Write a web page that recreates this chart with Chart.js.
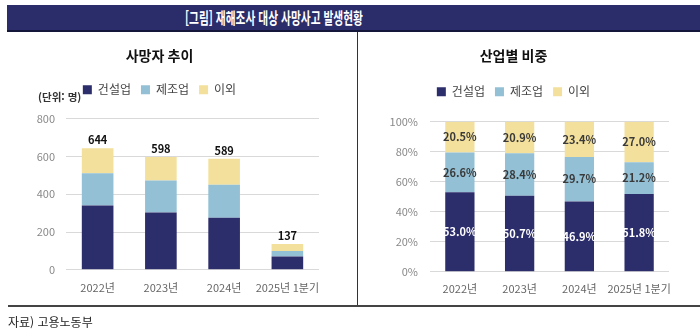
<!DOCTYPE html>
<html lang="ko">
<head>
<meta charset="utf-8">
<script src="https://cdn.jsdelivr.net/npm/chart.js@4/dist/chart.umd.min.js"></script>
<style>
  html, body { margin: 0; padding: 0; background: #fff; }
  body { width: 700px; height: 333px; position: relative; overflow: hidden;
         font-family: "Noto Sans CJK KR", "Noto Sans", sans-serif; }
  .head { position: absolute; left: 7px; top: 5px; width: 693px; height: 25px;
          background: #2a2d6a; border-bottom: 2px solid #15173a; }
  .head span { position: absolute; left: 267px; top: 1px; color: #fff; font-weight: bold;
               font-size: 16px; white-space: nowrap; transform: translateX(-50%) scaleX(0.67);
               line-height: 22px; }
  .vline { position: absolute; left: 357px; top: 32px; width: 1px; height: 274px; background: #333; }
  .bline { position: absolute; left: 8px; top: 305px; width: 692px; height: 2px; background: #444; }
  .unit { position: absolute; left: 38px; top: 89px; font-size: 10.5px; font-weight: bold; color: #333; }
  .src { position: absolute; left: 8px; top: 313px; font-size: 12px; color: #222; }
  #left { position: absolute; left: 0; top: 35px; }
  #right { position: absolute; left: 358px; top: 35px; }
</style>
</head>
<body>
<div class="head"><span>[그림] 재해조사 대상 사망사고 발생현황</span></div>
<div class="vline"></div>
<div class="bline"></div>
<canvas id="left" width="358" height="280"></canvas>
<canvas id="right" width="342" height="280"></canvas>
<div class="unit">(단위: 명)</div>
<div class="src">자료) 고용노동부</div>

<script>
//----------------------
// Data
//----------------------

const years = ['2022년', '2023년', '2024년', '2025년 1분기'];
const seriesNames = ['건설업', '제조업', '이외'];

// 사망자 수 (명)
const construction = [341, 303, 276, 71];
const manufacturing = [171, 170, 175, 29];
const others = [132, 125, 138, 37];

// 산업별 비중 (%)
const constructionPct = [53.0, 50.7, 46.9, 51.8];
const manufacturingPct = [26.6, 28.4, 29.7, 21.2];
const othersPct = [20.5, 20.9, 23.4, 27.0];

const countTicks = [0, 200, 400, 600, 800];
const pctTicks = [0, 20, 40, 60, 80, 100];

const colors = ['#2c2d6b', '#93c0d5', '#f3e09c'];
const font = '"Noto Sans CJK KR", "Noto Sans", sans-serif';

//----------------------
// Plugins
//----------------------

const legendGap = { // push the plot area down below the legend
    id: 'legendGap',
    beforeInit(chart, args, opts) {
        const fit = chart.legend.fit;
        chart.legend.fit = function () {
            fit.bind(chart.legend)();
            this.height += opts.extra;
        };
    }
};

const barLabels = { // totals on top or values inside each segment
    id: 'barLabels',
    afterDatasetsDraw(chart, args, opts) {
        const ctx = chart.ctx;
        ctx.save();
        ctx.font = 'bold 11px ' + font;
        ctx.textAlign = 'center';
        ctx.textBaseline = 'middle';
        if (opts.mode === 'total') {
            const last = chart.getDatasetMeta(chart.data.datasets.length - 1);
            last.data.forEach((bar, i) => {
                const total = chart.data.datasets.reduce((s, d) => s + d.data[i], 0);
                ctx.fillStyle = '#111';
                ctx.fillText(total, bar.x, bar.y - 8);
            });
        } else {
            chart.data.datasets.forEach((d, di) => {
                chart.getDatasetMeta(di).data.forEach((bar, i) => {
                    ctx.fillStyle = di === 0 ? '#fff' : '#3a3a3a';
                    ctx.fillText(d.data[i].toFixed(1) + '%', bar.x, (bar.y + bar.base) / 2);
                });
            });
        }
        ctx.restore();
    }
};

function makeDatasets(lists, barPct) {
    return lists.map((list, i) => ({
        label: seriesNames[i],
        data: list,
        backgroundColor: colors[i],
        barPercentage: barPct,
        categoryPercentage: 1
    }));
}

function makeOptions(o) {
    return {
        responsive: false,
        animation: false,
        layout: { padding: { left: 0, right: o.padRight, top: 0, bottom: o.padBottom } },
        plugins: {
            title: {
                display: true, text: o.title, color: '#111',
                font: { family: font, size: 14, weight: 'bold' },
                padding: { top: 12, bottom: o.titleBottom }
            },
            legend: {
                labels: {
                    boxWidth: 9, boxHeight: 9, padding: 10, color: '#444',
                    font: { family: font, size: 12 }
                }
            },
            tooltip: { enabled: false },
            legendGap: { extra: o.gap },
            barLabels: { mode: o.mode }
        },
        scales: {
            x: {
                stacked: true,
                grid: { display: false, drawTicks: false },
                border: { display: false },
                ticks: { color: '#666', padding: o.xPad, maxRotation: 0, autoSkip: false,
                         font: { family: font, size: 11 } }
            },
            y: {
                stacked: true,
                min: o.ticks[0],
                max: o.ticks[o.ticks.length - 1],
                afterBuildTicks: (axis) => { axis.ticks = o.ticks.map(v => ({ value: v })); },
                afterFit: (axis) => { axis.width = o.axisWidth; },
                grid: { color: '#d9d9d9', drawTicks: false },
                border: { display: false },
                ticks: { color: '#888', padding: o.yPad, font: { family: font, size: 11 },
                         callback: o.fmt }
            }
        }
    };
}

//----------------------
// 사망자 추이
//----------------------

new Chart(document.getElementById('left'), {
    type: 'bar',
    data: { labels: years, datasets: makeDatasets([construction, manufacturing, others], 0.5) },
    options: makeOptions({
        title: '사망자 추이', titleBottom: 10, gap: 13, mode: 'total',
        ticks: countTicks, axisWidth: 66, yPad: 11, xPad: 11,
        padRight: 39, padBottom: 10, fmt: v => v
    }),
    plugins: [legendGap, barLabels]
});

//----------------------
// 산업별 비중
//----------------------

new Chart(document.getElementById('right'), {
    type: 'bar',
    data: { labels: years, datasets: makeDatasets([constructionPct, manufacturingPct, othersPct], 0.49) },
    options: makeOptions({
        title: '산업별 비중', titleBottom: 12, gap: 14, mode: 'pct',
        ticks: pctTicks, axisWidth: 72, yPad: 12, xPad: 10,
        padRight: 31, padBottom: 10, fmt: v => v + '%'
    }),
    plugins: [legendGap, barLabels]
});
</script>
</body>
</html>
